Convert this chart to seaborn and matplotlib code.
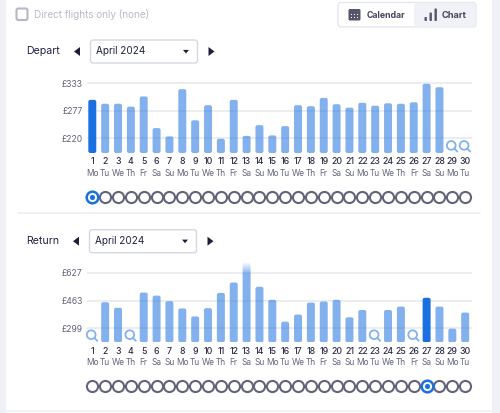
import numpy as np
import pandas as pd
import matplotlib
matplotlib.use("Agg")
import matplotlib.pyplot as plt
import seaborn as sns
from matplotlib.patches import FancyBboxPatch, Rectangle, Polygon
from matplotlib.path import Path
from matplotlib.transforms import blended_transform_factory

days = list(range(1, 31))
weekdays = ["Mo","Tu","We","Th","Fr","Sa","Su"] * 4 + ["Mo","Tu"]
depart_prices = [299,291,291,285,306,241,224,321,257,288,219,299,225,247,226,245,
                 288,286,303,290,283,293,287,292,291,294,332,325,np.nan,np.nan]
return_prices = [np.nan,453,420,np.nan,510,492,459,416,369,418,508,569,700,544,467,338,
                 380,451,457,467,364,407,np.nan,407,427,np.nan,479,427,297,392]
depart_ticks = [220, 277, 333]
return_ticks = [299, 463, 627]
depart_selected = 1
return_selected = 27
month_label = "April 2024"

BLUE = "#1a70e0"
LIGHT = "#82b3ee"
GRID = "#e9eaef"
INK = "#20223f"
GREY = "#62637a"
RING = "#63647a"
STRIP = "#eff1f7"
FONT = "Inter"

sns.set_theme(style="white")
plt.rcParams["font.family"] = [FONT, "DejaVu Sans"]

W, H = 500, 413
fig = plt.figure(figsize=(W/100, H/100), dpi=100, facecolor="white")

# page chrome in pixel coordinates
ui = fig.add_axes([0, 0, 1, 1], zorder=0)
ui.set_xlim(0, W); ui.set_ylim(H, 0); ui.axis("off")

def rrect(x0, y0, x1, y1, r=2.5, fc="white", ec="none", lw=1.0, z=2):
    ui.add_patch(FancyBboxPatch((x0, y0), x1-x0, y1-y0,
                 boxstyle=f"round,pad=0,rounding_size={r}", fc=fc, ec=ec, lw=lw, zorder=z))

ui.add_patch(Rectangle((0, 0), 6, H, fc=STRIP, ec="none"))
ui.add_patch(Rectangle((492, 0), 8, H, fc=STRIP, ec="none"))
ui.plot([6, 492], [411, 411], color=STRIP, lw=1.2)
ui.plot([18, 480], [212.5, 212.5], color="#ecedf2", lw=1.2)

# checkbox
rrect(16.5, 8.5, 27.5, 20, r=2, ec="#b6b7c6", lw=1.5)
ui.text(34, 14.5, "Direct flights only (none)", color="#b9bac8", fontsize=7.15, va="center")

# toggle
rrect(338, 2.5, 476, 27, r=3, ec="#e6e7ee", lw=1)
rrect(414, 3, 475.5, 26.5, r=3, fc="#f1f2f8")
rrect(348.5, 9, 360.5, 20.5, r=1.5, fc="#55566b")
for cx in (351.5, 354.5, 357.5):
    for cy in (14.5, 17.5):
        ui.add_patch(Rectangle((cx-.7, cy-.7), 1.4, 1.4, fc="white", ec="none", zorder=3))
ui.add_patch(Rectangle((348.5, 11.5), 12, .8, fc="white", ec="none", zorder=3))
ui.text(366.5, 15, "Calendar", color="#44455a", fontsize=6.3, fontweight="bold", va="center")
for x0, top in ((424.5, 17), (429.5, 12.5), (434.5, 8.5)):
    rrect(x0, top, x0+2.4, 21, r=.8, fc="#55566b", z=3)
ui.text(442, 15, "Chart", color="#44455a", fontsize=6.6, fontweight="bold", va="center")

def header(label, yc, dx):
    ui.text(26, yc, label, color=INK, fontsize=7.6, va="center")
    ui.add_patch(Polygon([(80+dx, yc-4.5), (80+dx, yc+4.5), (74+dx, yc)], fc="#1d1f38", ec="none"))
    ui.add_patch(Polygon([(208.5+dx, yc-4.5), (208.5+dx, yc+4.5), (214.5+dx, yc)], fc="#1d1f38", ec="none"))
    rrect(90.5+dx, yc-11.5, 197.5+dx, yc+11.5, r=2.5, ec="#d6d8e1", lw=1)
    ui.text(96+dx, yc, month_label, color=INK, fontsize=7.2, va="center", zorder=3)
    ui.add_patch(Polygon([(183+dx, yc-1.6), (189+dx, yc-1.6), (186+dx, yc+2)], fc="#1d1f38", ec="none", zorder=3))

header("Depart", 51.5, 0)
header("Return", 241.2, -1)

# magnifier marker
MAG = Path.make_compound_path(
    Path.circle((-0.2, 0.2), 0.8),
    Path([(0.35, -0.35), (1.0, -1.0)], [Path.MOVETO, Path.LINETO]))

def chart(prices, ticks, selected, px_top, px_base, gridpx, fade=None):
    left, right = 86.7, 472.0
    ax = fig.add_axes([left/W, 1-px_base/H, (right-left)/W, (px_base-px_top)/H], zorder=1)
    ax.patch.set_alpha(0)
    upp = (ticks[2]-ticks[0]) / (gridpx[0]-gridpx[2])   # price units per pixel
    ymin = ticks[0] - (px_base-gridpx[0])*upp
    ymax = ticks[0] + (gridpx[0]-px_top)*upp
    df = pd.DataFrame({"day": [str(d) for d in days], "price": prices})
    pal = {str(d): (BLUE if d == selected else LIGHT) for d in days}
    sns.barplot(data=df, x="day", y="price", hue="day", palette=pal, legend=False,
                width=0.62, ax=ax, saturation=1)
    xupp = 1/12.86
    for p in list(ax.patches):
        h = p.get_height()
        if np.isnan(h):
            p.remove(); continue
        x, w, fc = p.get_x(), p.get_width(), p.get_facecolor()
        p.remove()
        sel = matplotlib.colors.to_hex(fc) == BLUE
        ax.add_patch(FancyBboxPatch((x, ymin), w, h-ymin,
                     boxstyle=f"round,pad=0,rounding_size={2*xupp}",
                     mutation_aspect=upp/xupp, fc=BLUE,
                     alpha=1 if sel else 0.54, ec="none", zorder=3, clip_on=True))
    ax.set_xlim(-0.435, 29.53)
    ax.set_ylim(ymin, ymax)
    ax.set_yticks(ticks, [f"£{t}" for t in ticks])
    ax.tick_params(axis="y", length=0, pad=3, labelsize=6.2, labelcolor=GREY)
    ax.set_xticks(range(30), [str(d) for d in days])
    ax.tick_params(axis="x", length=0, pad=3.2, labelsize=6.3, labelcolor="#2b2c47")
    for t in ax.get_xticklabels():
        t.set_fontweight("medium")
    ax.set_xlabel(""); ax.set_ylabel("")
    ax.grid(axis="y", color=GRID, lw=1.2, zorder=1)
    ax.set_axisbelow(True)
    sns.despine(ax=ax, left=True, bottom=True, top=True, right=True)
    sec = ax.secondary_xaxis("bottom")
    sec.set_xticks(range(30), weekdays)
    sec.tick_params(axis="x", length=0, pad=11.6, labelsize=6.0, labelcolor=GREY)
    sec.spines["bottom"].set_visible(False)

    trans = blended_transform_factory(ax.transData, ax.transAxes)
    frac = lambda py: (px_base-py)/(px_base-px_top)
    idx = np.arange(30)
    # missing days
    miss = idx[np.isnan(np.array(prices, dtype=float))]
    ax.scatter(miss, [frac(px_base-6.5)]*len(miss), transform=trans, marker=MAG, s=62,
               facecolors="none", edgecolors=LIGHT, linewidths=1.3, zorder=4, clip_on=False)
    # day selectors
    dot_y = frac(px_base+43.6)
    others = idx[idx != selected-1]
    ax.scatter(others, [dot_y]*len(others), transform=trans, s=64, facecolors="white",
               edgecolors=RING, linewidths=1.5, zorder=4, clip_on=False)
    ax.scatter([selected-1], [dot_y], transform=trans, s=70, facecolors="white",
               edgecolors=BLUE, linewidths=1.8, zorder=5, clip_on=False)
    ax.scatter([selected-1], [dot_y], transform=trans, s=14, color=BLUE, linewidths=0, zorder=6, clip_on=False)
    if fade is not None:
        n = 24
        rgba = np.ones((n, 1, 4)); rgba[:, 0, 3] = np.linspace(1, 0, n)
        ax.imshow(rgba, extent=(fade-0.5, fade+0.5, ticks[2]-1*upp, ymax), aspect="auto", zorder=3.5, origin="upper")
        ax.set_xlim(-0.435, 29.53); ax.set_ylim(ymin, ymax)
    return ax

chart(depart_prices, depart_ticks, depart_selected, 75, 153, (138.3, 110, 83.3))
chart(return_prices, return_ticks, return_selected, 262, 342.3, (328.3, 300.3, 272.7), fade=12)

fig.savefig("out.png", dpi=100, facecolor="white")
